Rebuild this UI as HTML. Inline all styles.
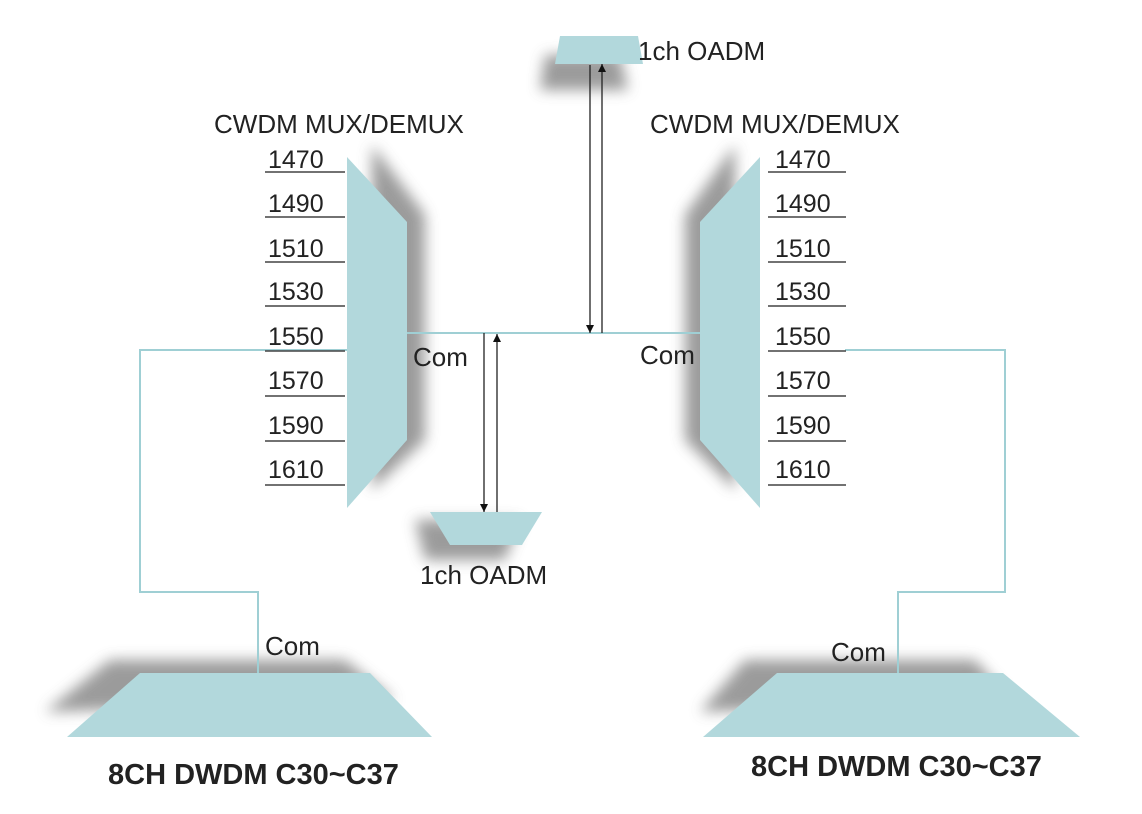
<!DOCTYPE html>
<html><head><meta charset="utf-8"><style>
html,body{margin:0;padding:0;background:#fff;}
svg{display:block;}
text{font-family:"Liberation Sans",Arial,sans-serif;fill:#222;}
</style></head><body>
<svg width="1142" height="814" viewBox="0 0 1142 814" xmlns="http://www.w3.org/2000/svg">
<defs>
<filter id="b" x="-50%" y="-50%" width="200%" height="200%"><feGaussianBlur stdDeviation="7"/></filter>
<marker id="ah" markerWidth="8" markerHeight="8" refX="8" refY="4" orient="auto" markerUnits="userSpaceOnUse"><path d="M0,0 L8,4 L0,8 z" fill="#111"/></marker>
</defs>
<g fill="#8a8a8a" filter="url(#b)" opacity="0.85">
<polygon points="372,145 425,215 425,440 372,490"/>
<polygon points="735,145 685,215 685,440 735,490"/>
<polygon points="110,660 345,660 395,700 45,712"/>
<polygon points="745,660 975,660 1010,700 700,712"/>
<polygon points="545,55 620,55 628,90 540,90"/>
<polygon points="415,520 520,520 505,560 425,560"/>
</g>
<g fill="#b2d8dc">
<polygon points="347,157 407,222 407,440 347,508"/>
<polygon points="760,157 700,222 700,440 760,508"/>
<polygon points="140,673 370,673 432,737 67,737"/>
<polygon points="777,673 1003,673 1080,737 703,737"/>
<polygon points="560,36 638,36 643,64 555,64"/>
<polygon points="430,512 542,512 522,545 450,545"/>
</g>
<g stroke="#9fcfd4" stroke-width="2" fill="none">
<line x1="407" y1="333" x2="700" y2="333"/>
<polyline points="347,350 140,350 140,592 258,592 258,673"/>
<polyline points="845,350 1005,350 1005,592 898,592 898,673"/>
</g>
<g stroke="#222" stroke-width="1.3">
<line x1="590" y1="65" x2="590" y2="333" marker-end="url(#ah)"/>
<line x1="602" y1="333" x2="602" y2="64" marker-end="url(#ah)"/>
<line x1="484" y1="333" x2="484" y2="512" marker-end="url(#ah)"/>
<line x1="497" y1="512" x2="497" y2="334" marker-end="url(#ah)"/>
</g>
<g stroke="#444" stroke-width="1.5">
<line x1="265" y1="172" x2="345" y2="172"/><line x1="265" y1="217" x2="345" y2="217"/>
<line x1="265" y1="262" x2="345" y2="262"/><line x1="265" y1="306" x2="345" y2="306"/>
<line x1="265" y1="351" x2="345" y2="351"/><line x1="265" y1="396" x2="345" y2="396"/>
<line x1="265" y1="441" x2="345" y2="441"/><line x1="265" y1="485" x2="345" y2="485"/>
<line x1="768" y1="172" x2="846" y2="172"/><line x1="768" y1="217" x2="846" y2="217"/>
<line x1="768" y1="262" x2="846" y2="262"/><line x1="768" y1="306" x2="846" y2="306"/>
<line x1="768" y1="351" x2="846" y2="351"/><line x1="768" y1="396" x2="846" y2="396"/>
<line x1="768" y1="441" x2="846" y2="441"/><line x1="768" y1="485" x2="846" y2="485"/>
</g>
<g font-size="25">
<text x="268" y="168">1470</text><text x="268" y="212">1490</text>
<text x="268" y="257">1510</text><text x="268" y="300">1530</text>
<text x="268" y="345">1550</text><text x="268" y="389">1570</text>
<text x="268" y="434">1590</text><text x="268" y="478">1610</text>
<text x="775" y="168">1470</text><text x="775" y="212">1490</text>
<text x="775" y="257">1510</text><text x="775" y="300">1530</text>
<text x="775" y="345">1550</text><text x="775" y="389">1570</text>
<text x="775" y="434">1590</text><text x="775" y="478">1610</text>
</g>
<g font-size="26">
<text x="214" y="133" font-size="26">CWDM MUX/DEMUX</text>
<text x="650" y="133" font-size="26">CWDM MUX/DEMUX</text>
<text x="638" y="60">1ch OADM</text>
<text x="420" y="584">1ch OADM</text>
<text x="413" y="366" font-size="26">Com</text>
<text x="640" y="364" font-size="26">Com</text>
<text x="265" y="655" font-size="26">Com</text>
<text x="831" y="661" font-size="26">Com</text>
</g>
<g font-size="29" font-weight="bold">
<text x="108" y="784">8CH DWDM C30~C37</text>
<text x="751" y="776">8CH DWDM C30~C37</text>
</g>
</svg>
</body></html>
